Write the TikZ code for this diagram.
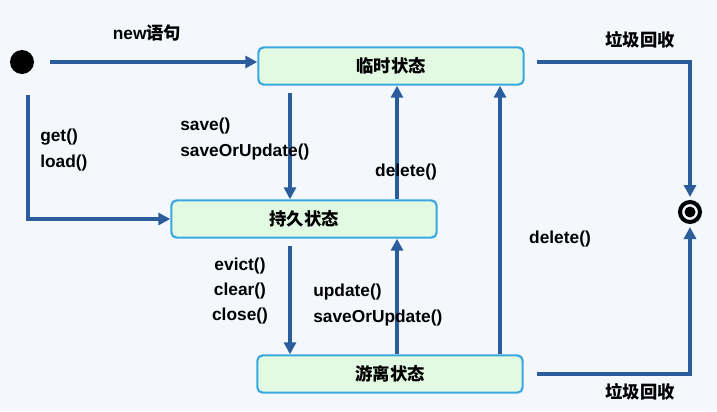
\documentclass[tikz,border=0pt]{standalone}
\usepackage{fontspec}
\setmainfont{Liberation Sans}
\newfontfamily\cjk{Noto Sans CJK SC}
\usetikzlibrary{arrows.meta}
\definecolor{flow}{HTML}{2B5C9C}
\definecolor{edge}{HTML}{3AA8E0}
\definecolor{boxfill}{HTML}{E3FAE2}
\definecolor{paper}{HTML}{F4F7FC}
\begin{document}
\begin{tikzpicture}[x=0.75pt,y=-0.75pt,font=\bfseries\fontsize{13}{19}\selectfont,
        state/.style={draw=edge, line width=1.6pt, fill=boxfill, rounded corners=4pt,
                        minimum width=199pt, minimum height=28pt, font=\cjk\bfseries\fontsize{13}{15}\selectfont},
        arr/.style={draw=flow, line width=2.6pt, -{Triangle[length=9pt,width=9pt]}},
        lbl/.style={align=left, inner sep=0pt}]
    \fill[paper] (0,0) rectangle (717,411);
    \useasboundingbox (0,0) rectangle (717,411);

    \node[state] (tmp) at (391,66) {临时状态};
    \node[state] (per) at (304,219) {持久状态};
    \node[state] (det) at (390,374) {游离状态};
    \fill (22,62) circle (12);
    \coordinate (start) at (22,62);
    \draw[line width=3pt] (690,212) circle (10);
    \fill (690,212) circle (5.5);
    \coordinate (fin) at (690,212);

    % transitions
    \draw[arr] (50,62) -- (tmp.west |- 0,62);
    \draw[arr] (28,95) |- (per.west);
    \draw[arr] (290,93) -- (290,0 |- per.north);
    \draw[arr] (397,0 |- per.north) -- (397,0 |- tmp.south);
    \draw[arr] (290,246) -- (290,0 |- det.north);
    \draw[arr] (397,0 |- det.north) -- (397,0 |- per.south);
    \draw[arr] (500,0 |- det.north) -- (500,0 |- tmp.south);
    \draw[arr] (537,62) -| (690,197);
    \draw[arr] (537,374) -| (690,227);

    % labels
    \node[lbl] (lnew) at (147,33) {new\cjk 语句};
    \node[lbl] (lgc1) at (640,40) {\cjk 垃圾回收};
    \node[lbl] (lgc2) at (640,392) {\cjk 垃圾回收};
    \node[lbl, anchor=west] (lget) at (40,150) {get()\\load()};
    \node[lbl, anchor=west] (lsave) at (180,139) {save()\\saveOrUpdate()};
    \node[lbl] (ldel1) at (406,172) {delete()};
    \node[lbl, align=center] (levict) at (240,291) {evict()\\clear()\\close()};
    \node[lbl, anchor=west] (lupd) at (313,305) {update()\\saveOrUpdate()};
    \node[lbl] (ldel2) at (560,239) {delete()};
\end{tikzpicture}
\end{document}
